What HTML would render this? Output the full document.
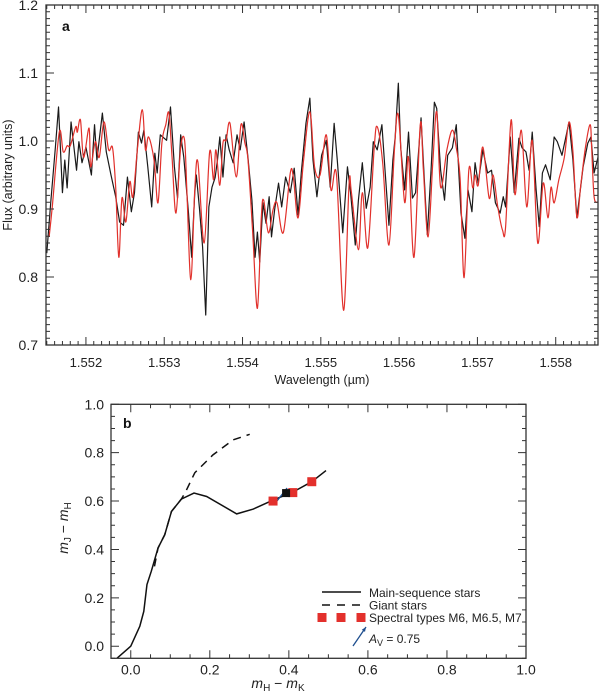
<!DOCTYPE html>
<html><head><meta charset="utf-8"><style>
body{margin:0;background:#fff;}
svg{display:block;font-family:"Liberation Sans",sans-serif;}
</style></head><body>
<svg id="chart" width="600" height="692" viewBox="0 0 600 692"></svg>
<script>
// ---------- Panel a data ----------
const obsWave=[1.5515,1.55155,1.55161,1.55165,1.5517,1.55173,1.55176,1.55181,1.55188,1.55191,1.55195,1.552,1.55207,1.55211,1.55214,1.55221,1.55226,1.55232,1.55238,1.55243,1.55248,1.55253,1.55258,1.55262,1.55267,1.55271,1.55274,1.55279,1.55284,1.55288,1.55291,1.55295,1.55303,1.55308,1.55313,1.55317,1.55321,1.55325,1.55331,1.55335,1.55339,1.55341,1.55345,1.55349,1.55353,1.55357,1.55361,1.55365,1.55368,1.55371,1.55375,1.55379,1.55383,1.55388,1.55393,1.55397,1.55402,1.55407,1.55412,1.55416,1.55419,1.55422,1.55426,1.5543,1.55434,1.55437,1.55441,1.55446,1.5545,1.55455,1.55461,1.55466,1.55471,1.55475,1.55481,1.55486,1.5549,1.55495,1.55501,1.55507,1.55512,1.55517,1.55521,1.55528,1.55534,1.55538,1.55544,1.55548,1.55553,1.55558,1.55563,1.55567,1.55572,1.55578,1.55582,1.55587,1.55592,1.55595,1.55599,1.55602,1.55607,1.55612,1.55617,1.55621,1.55628,1.55632,1.55636,1.55641,1.55645,1.55648,1.55653,1.55658,1.55662,1.55668,1.55673,1.55679,1.55684,1.55688,1.55693,1.55697,1.55701,1.55707,1.55713,1.55718,1.55723,1.55729,1.55733,1.55736,1.55742,1.55747,1.55753,1.55757,1.55762,1.55766,1.5577,1.55775,1.55779,1.55783,1.55787,1.55793,1.55798,1.55802,1.55808,1.55813,1.55817,1.55822,1.55827,1.55831,1.55835,1.55841,1.55845,1.55849,1.55854];
const obsFlux=[0.835,0.909,0.991,1.05,0.924,0.972,0.931,1.028,0.957,0.999,0.968,0.991,0.95,1.024,0.972,1.041,0.984,0.95,0.918,0.881,0.876,0.947,0.896,0.924,1.013,0.997,1.016,0.962,0.903,0.982,0.953,1.009,1.001,1.05,0.962,0.916,1.009,0.976,0.894,0.829,0.924,0.95,0.901,0.844,0.744,0.903,0.932,0.946,0.972,1.006,0.947,1.009,0.987,0.968,1.009,0.987,1.028,0.975,0.913,0.829,0.866,0.822,0.909,0.879,0.918,0.859,0.899,0.938,0.903,0.947,0.924,0.96,0.891,0.953,1.026,1.063,0.972,0.918,0.979,1.001,0.932,1.026,0.972,0.865,0.962,0.924,0.847,0.913,0.968,0.901,0.932,0.999,0.987,1.024,0.957,0.876,0.972,1.006,1.085,0.991,0.928,1.013,0.916,0.924,1.034,0.947,0.862,0.962,1.057,1.048,0.957,0.913,0.979,0.99,1.024,0.894,0.857,0.928,0.896,0.968,0.938,0.987,0.953,0.957,0.909,0.894,0.918,0.903,1.006,0.924,1.004,0.99,0.984,0.957,1.013,0.928,0.874,0.953,0.965,0.943,1.006,0.999,0.979,1.006,1.028,0.972,0.887,0.924,0.962,0.997,1.006,0.953,0.976];
const modelWave=[1.55153,1.55157,1.55166,1.55171,1.55176,1.5518,1.55187,1.55189,1.55193,1.55197,1.55204,1.55206,1.55212,1.55217,1.55223,1.55229,1.55234,1.55238,1.55242,1.55246,1.55251,1.55256,1.5526,1.55266,1.55272,1.55276,1.5528,1.55287,1.55292,1.55297,1.55302,1.55306,1.5531,1.55315,1.55321,1.55326,1.55329,1.55334,1.55339,1.55343,1.55351,1.55358,1.55363,1.55366,1.55371,1.55375,1.55379,1.55384,1.55392,1.55398,1.55403,1.55407,1.55413,1.55419,1.55424,1.55427,1.55433,1.55439,1.55444,1.55452,1.55461,1.55465,1.55471,1.55478,1.55486,1.55492,1.55499,1.55507,1.55513,1.5552,1.55529,1.55536,1.55539,1.55548,1.55553,1.5556,1.55568,1.55572,1.55579,1.55587,1.55594,1.55599,1.55607,1.55612,1.55619,1.55627,1.55631,1.55637,1.55643,1.55648,1.55653,1.55661,1.55668,1.55673,1.55678,1.55683,1.55689,1.55694,1.55697,1.55701,1.55707,1.55715,1.5572,1.55726,1.55732,1.55736,1.55743,1.55748,1.55756,1.55763,1.5577,1.55777,1.55784,1.5579,1.55794,1.55798,1.55804,1.55811,1.55817,1.55822,1.55827,1.55832,1.55838,1.55844,1.55846,1.55849,1.55854];
const modelFlux=[0.859,0.903,1.013,0.984,0.993,0.993,1.021,1.013,1.031,0.976,1.019,0.962,0.999,0.976,1.028,0.987,0.99,0.932,0.829,0.916,0.881,0.94,0.918,0.991,1.046,0.987,1.006,0.972,0.909,0.997,1.024,1.041,0.976,0.894,0.99,1.001,0.924,0.796,0.928,0.969,0.85,0.984,0.943,0.987,0.935,0.997,1.001,1.026,0.947,1.024,0.997,0.972,0.865,0.754,0.888,0.913,0.865,0.899,0.909,0.865,0.953,0.946,0.887,0.972,1.043,0.962,0.95,1.009,0.928,0.95,0.751,0.935,0.925,0.84,0.924,0.843,0.987,1.021,0.968,0.847,0.987,1.038,0.91,0.976,0.829,1.024,0.957,0.859,0.968,1.043,0.932,0.987,1.016,0.99,0.943,0.799,0.957,0.931,0.95,0.935,0.991,0.916,0.95,0.903,0.869,0.874,1.031,0.921,1.016,0.903,1.001,0.85,0.938,0.887,0.932,0.909,0.943,0.976,1.028,0.984,0.888,0.935,0.991,1.024,0.987,0.918,0.91];
const aXTicks=[1.552,1.553,1.554,1.555,1.556,1.557,1.558];
const aYTicks=[0.7,0.8,0.9,1.0,1.1,1.2];
// ---------- Panel b data ----------
const msX=[-0.035,0.0,0.023,0.033,0.041,0.052,0.069,0.086,0.103,0.128,0.16,0.192,0.268,0.31,0.356,0.41,0.458,0.494];
const msY=[-0.05,0.0,0.083,0.144,0.255,0.31,0.406,0.461,0.557,0.608,0.633,0.619,0.547,0.567,0.601,0.637,0.68,0.726];
const giantX=[0.06,0.069,0.086,0.103,0.128,0.139,0.162,0.208,0.259,0.301];
const giantY=[0.33,0.406,0.461,0.557,0.608,0.639,0.717,0.791,0.853,0.876];
const spX=[0.36,0.41,0.458];
const spY=[0.60,0.635,0.68];
const objX=[0.393];
const objY=[0.633];
const bXTicks=[0.0,0.2,0.4,0.6,0.8,1.0];
const bYTicks=[0.0,0.2,0.4,0.6,0.8,1.0];

const NS="http://www.w3.org/2000/svg";
const svg=document.getElementById('chart');
function mk(tag,attrs,parent){const e=document.createElementNS(NS,tag);for(const k in attrs)e.setAttribute(k,attrs[k]);(parent||svg).appendChild(e);return e;}

// Panel a scales
const aL=46,aR=598,aT=5,aB=345,aX0=1.55149,aX1=1.55854,aY0=0.7,aY1=1.2;
const ax=v=>aL+(v-aX0)/(aX1-aX0)*(aR-aL);
const ay=v=>aB-(v-aY0)/(aY1-aY0)*(aB-aT);
// Panel b scales
const bL=111,bR=526,bT=404.3,bB=658.3,bX0=-0.05,bX1=1.0,bY0=-0.05,bY1=1.0;
const bx=v=>bL+(v-bX0)/(bX1-bX0)*(bR-bL);
const by=v=>bB-(v-bY0)/(bY1-bY0)*(bB-bT);

// ---- Panel a ----
const ga=mk('g',{});


const clipA=mk('clipPath',{id:'clipA'});mk('rect',{x:aL,y:aT,width:aR-aL,height:aB-aT},clipA);
// model (smooth)
function smoothPath(pts){let d='M'+pts[0][0]+','+pts[0][1];for(let i=0;i<pts.length-1;i++){const p0=pts[i-1]||pts[i],p1=pts[i],p2=pts[i+1],p3=pts[i+2]||p2;const c1x=p1[0]+(p2[0]-p0[0])/6,c1y=p1[1]+(p2[1]-p0[1])/6,c2x=p2[0]-(p3[0]-p1[0])/6,c2y=p2[1]-(p3[1]-p1[1])/6;d+=' C'+c1x.toFixed(2)+','+c1y.toFixed(2)+' '+c2x.toFixed(2)+','+c2y.toFixed(2)+' '+p2[0].toFixed(2)+','+p2[1].toFixed(2);}return d;}
const blk=mk('polyline',{points:obsWave.map((w,i)=>ax(w).toFixed(2)+','+ay(obsFlux[i]).toFixed(2)).join(' '),fill:'none',stroke:'#1a1a1a','stroke-width':1.2,'stroke-linejoin':'round','clip-path':'url(#clipA)'},ga);


const red=mk('path',{d:smoothPath(modelWave.map((w,i)=>[ax(w),ay(modelFlux[i])])),fill:'none',stroke:'#e1302b','stroke-width':1.2,'clip-path':'url(#clipA)'},ga);


const frA=mk('rect',{x:aL,y:aT,width:aR-aL,height:aB-aT,fill:'none',stroke:'#333','stroke-width':1.3},ga);


// ticks panel a
let tp='';
for(let i=0;i<=50;i++){const v=0.7+i*0.01,y=ay(v),len=(i%10===0)?8:4;tp+=`M${aL},${y}h${len}M${aR},${y}h${-len}`;}
for(let i=0;i<=70;i++){const v=1.5515+i*0.0001;const x=ax(v);if(x<aL||x>aR)continue;const len=(Math.round(v*10000)%10===0)?8:4;tp+=`M${x},${aB}v${-len}M${x},${aT}v${len}`;}
mk('path',{d:tp,stroke:'#333','stroke-width':1,fill:'none'},ga);
aYTicks.forEach(v=>{const t=mk('text',{x:aL-8,y:ay(v)+5,'text-anchor':'end','font-size':14,fill:'#222'},ga);t.textContent=v.toFixed(1);

});
aXTicks.forEach(v=>{const t=mk('text',{x:ax(v),y:aB+22,'text-anchor':'middle','font-size':13,fill:'#222'},ga);t.textContent=v.toFixed(3);

});
let t=mk('text',{x:322,y:384,'text-anchor':'middle','font-size':12.5,fill:'#222'},ga);t.textContent='Wavelength (µm)';


t=mk('text',{x:0,y:0,transform:'translate(12,175) rotate(-90)','text-anchor':'middle','font-size':12.5,fill:'#222'},ga);t.textContent='Flux (arbitrary units)';


t=mk('text',{x:62,y:31,'font-size':14,'font-weight':'bold',fill:'#111'},ga);t.textContent='a';



// ---- Panel b ----
const gb=mk('g',{});


const clipB=mk('clipPath',{id:'clipB'});mk('rect',{x:bL,y:bT,width:bR-bL,height:bB-bT},clipB);
const ms=mk('polyline',{points:msX.map((v,i)=>bx(v).toFixed(2)+','+by(msY[i]).toFixed(2)).join(' '),fill:'none',stroke:'#111','stroke-width':1.5,'clip-path':'url(#clipB)'},gb);


const gi=mk('polyline',{points:giantX.map((v,i)=>bx(v).toFixed(2)+','+by(giantY[i]).toFixed(2)).join(' '),fill:'none',stroke:'#111','stroke-width':1.5,'stroke-dasharray':'8,6'},gb);


// reddening arrow near object
function arrow(x1,y1,x2,y2,p){const l=mk('line',{x1,y1,x2,y2,stroke:'#1f4f8f','stroke-width':1.3},p);const a=Math.atan2(y2-y1,x2-x1),s=5;mk('polygon',{points:`${x2},${y2} ${x2-s*Math.cos(a-0.4)},${y2-s*Math.sin(a-0.4)} ${x2-s*Math.cos(a+0.4)},${y2-s*Math.sin(a+0.4)}`,fill:'#1f4f8f'},p);return l;}
const ar=arrow(bx(objX[0])-10,by(objY[0])+9,bx(objX[0])+1,by(objY[0])-5,gb);


spX.forEach((v,i)=>{const r=mk('rect',{x:bx(v)-4.5,y:by(spY[i])-4.5,width:9,height:9,fill:'#e3302c'},gb);

});
objX.forEach((v,i)=>{const r=mk('rect',{x:bx(v)-4,y:by(objY[i])-4,width:8,height:8,fill:'#111'},gb);

});
const frB=mk('rect',{x:bL,y:bT,width:bR-bL,height:bB-bT,fill:'none',stroke:'#333','stroke-width':1.3},gb);


let tb='';
for(let i=0;i<=21;i++){const v=-0.05+i*0.05;const major=(i%4===1);const len=major?8:4;const y=by(v),x=bx(v);tb+=`M${bL},${y}h${len}M${bR},${y}h${-len}M${x},${bB}v${-len}M${x},${bT}v${len}`;}
mk('path',{d:tb,stroke:'#333','stroke-width':1,fill:'none'},gb);
bYTicks.forEach(v=>{const t=mk('text',{x:bL-7,y:by(v)+5,'text-anchor':'end','font-size':14,fill:'#222'},gb);t.textContent=v.toFixed(1);

});
bXTicks.forEach(v=>{const t=mk('text',{x:bx(v),y:bB+16,'text-anchor':'middle','font-size':14,fill:'#222'},gb);t.textContent=v.toFixed(1);

});
t=mk('text',{x:278,y:688,'text-anchor':'middle','font-size':14,fill:'#222'},gb);
t.innerHTML='<tspan font-style="italic">m</tspan><tspan font-size="10" dy="3">H</tspan><tspan dy="-3"> − </tspan><tspan font-style="italic">m</tspan><tspan font-size="10" dy="3">K</tspan>';


t=mk('text',{x:0,y:0,transform:'translate(68,528) rotate(-90)','text-anchor':'middle','font-size':14,fill:'#222'},gb);
t.innerHTML='<tspan font-style="italic">m</tspan><tspan font-size="10" dy="3">J</tspan><tspan dy="-3"> − </tspan><tspan font-style="italic">m</tspan><tspan font-size="10" dy="3">H</tspan>';


t=mk('text',{x:123,y:428,'font-size':14,'font-weight':'bold',fill:'#111'},gb);t.textContent='b';


// legend
const lg=mk('g',{},gb);


mk('line',{x1:322,y1:592,x2:361,y2:592,stroke:'#111','stroke-width':1.5},lg);
mk('line',{x1:322,y1:605,x2:361,y2:605,stroke:'#111','stroke-width':1.5,'stroke-dasharray':'8,7'},lg);
[322,341,361].forEach(x=>mk('rect',{x:x-4.5,y:613,width:9,height:9,fill:'#e3302c'},lg));
arrow(353,646,366,627,lg);
const legTexts=[['Main-sequence stars',597],['Giant stars',609.5],['Spectral types M6, M6.5, M7',622]];
legTexts.forEach(([s,y])=>{const e=mk('text',{x:369,y:y,'font-size':12,fill:'#222'},lg);e.textContent=s;

});
t=mk('text',{x:369,y:643,'font-size':12,fill:'#222'},lg);
t.innerHTML='<tspan font-style="italic">A</tspan><tspan font-size="9" dy="3">V</tspan><tspan dy="-3"> = 0.75</tspan>';


</script>
</body></html>
